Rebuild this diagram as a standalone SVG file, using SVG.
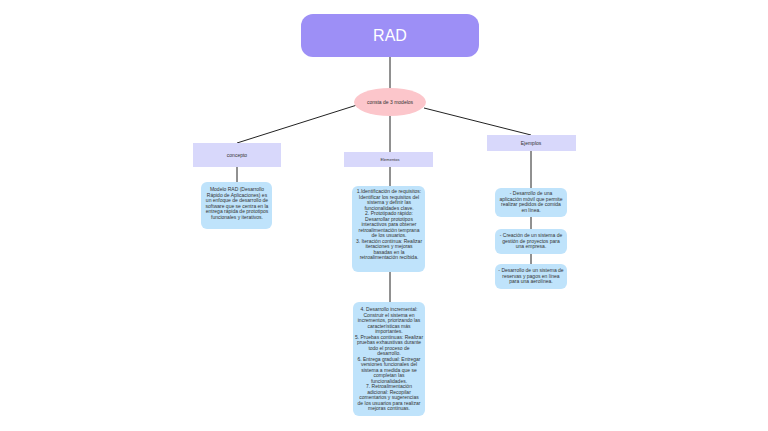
<svg xmlns="http://www.w3.org/2000/svg" width="768" height="431" viewBox="0 0 768 431">
<style>
text{font-family:"Liberation Sans",Arial,sans-serif;fill:#333;text-anchor:middle}
.t{font-size:5px}
.hd{fill:#d8d8fb}
.bl{fill:#bfe3fb}
.c line{stroke:#222;stroke-width:1}
</style>
<rect width="768" height="431" fill="#fff"/>
<g class="c">
<line x1="390" y1="57" x2="390" y2="88"/>
<line x1="357" y1="105" x2="237" y2="143"/>
<line x1="390" y1="116" x2="390" y2="152"/>
<line x1="424" y1="108" x2="531" y2="135"/>
<line x1="237" y1="167" x2="237" y2="182"/>
<line x1="390" y1="167" x2="390" y2="186"/>
<line x1="390" y1="272" x2="390" y2="302"/>
<line x1="531" y1="151" x2="531" y2="188"/>
<line x1="531" y1="217" x2="531" y2="229"/>
<line x1="531" y1="254" x2="531" y2="264"/>
</g>
<g id="rad"><rect x="301" y="14" width="178" height="43" rx="12" fill="#9d8ff6"/><text x="390" y="41" style="font-size:16px;fill:#fff">RAD</text></g>
<g id="consta"><ellipse cx="390" cy="102" rx="36" ry="14" fill="#fcc6cb"/><text class="t" x="390" y="104">consta de 3 modelos</text></g>
<g id="concepto"><rect class="hd" x="193" y="143" width="88" height="24"/><text class="t" x="237" y="157">concepto</text></g>
<g id="elementos"><rect class="hd" x="344" y="152" width="89" height="15"/><text x="390" y="161" style="font-size:4px">Elementos</text></g>
<g id="ejemplos"><rect class="hd" x="487" y="135" width="89" height="16"/><text class="t" x="531" y="145">Ejemplos</text></g>
<g id="def"><rect class="bl" x="201" y="182" width="71" height="47" rx="6"/>
<text class="t" x="237"><tspan x="237" y="191">Modelo RAD (Desarrollo</tspan><tspan x="237" y="196.5">Rápido de Aplicaciones) es</tspan><tspan x="237" y="202">un enfoque de desarrollo de</tspan><tspan x="237" y="207.5">software que se centra en la</tspan><tspan x="237" y="213">entrega rápida de prototipos</tspan><tspan x="237" y="218.5">funcionales y iterativos.</tspan></text></g>
<g id="el1"><rect class="bl" x="352" y="186" width="73" height="86" rx="6"/>
<text class="t"><tspan x="389" y="193">1.Identificación de requisitos:</tspan><tspan x="389" y="198.5">Identificar los requisitos del</tspan><tspan x="389" y="204">sistema y definir las</tspan><tspan x="389" y="209.5">funcionalidades clave.</tspan><tspan x="389" y="215">2. Prototipado rápido:</tspan><tspan x="389" y="220.5">Desarrollar prototipos</tspan><tspan x="389" y="226">interactivos para obtener</tspan><tspan x="389" y="231.5">retroalimentación temprana</tspan><tspan x="389" y="237">de los usuarios.</tspan><tspan x="389" y="242.5">3. Iteración continua: Realizar</tspan><tspan x="389" y="248">iteraciones y mejoras</tspan><tspan x="389" y="253.5">basadas en la</tspan><tspan x="389" y="259">retroalimentación recibida.</tspan></text></g>
<g id="el2"><rect class="bl" x="353" y="302" width="72" height="114" rx="6"/>
<text class="t"><tspan x="389" y="311">4. Desarrollo incremental:</tspan><tspan x="389" y="316.5">Construir el sistema en</tspan><tspan x="389" y="322">incrementos, priorizando las</tspan><tspan x="389" y="327.5">características más</tspan><tspan x="389" y="333">importantes.</tspan><tspan x="389" y="338.5">5. Pruebas continuas: Realizar</tspan><tspan x="389" y="344">pruebas exhaustivas durante</tspan><tspan x="389" y="349.5">todo el proceso de</tspan><tspan x="389" y="355">desarrollo.</tspan><tspan x="389" y="360.5">6. Entrega gradual: Entregar</tspan><tspan x="389" y="366">versiones funcionales del</tspan><tspan x="389" y="371.5">sistema a medida que se</tspan><tspan x="389" y="377">completan las</tspan><tspan x="389" y="382.5">funcionalidades.</tspan><tspan x="389" y="388">7. Retroalimentación</tspan><tspan x="389" y="393.5">adicional: Recopilar</tspan><tspan x="389" y="399">comentarios y sugerencias</tspan><tspan x="389" y="404.5">de los usuarios para realizar</tspan><tspan x="389" y="410">mejoras continuas.</tspan></text></g>
<g id="ej1"><rect class="bl" x="495" y="188" width="72" height="29" rx="6"/>
<text class="t"><tspan x="531" y="195">- Desarrollo de una</tspan><tspan x="531" y="200.5">aplicación móvil que permite</tspan><tspan x="531" y="206">realizar pedidos de comida</tspan><tspan x="531" y="211.5">en línea.</tspan></text></g>
<g id="ej2"><rect class="bl" x="495" y="229" width="72" height="25" rx="6"/>
<text class="t"><tspan x="531" y="237">- Creación de un sistema de</tspan><tspan x="531" y="242.5">gestión de proyectos para</tspan><tspan x="531" y="248">una empresa.</tspan></text></g>
<g id="ej3"><rect class="bl" x="495" y="264" width="72" height="25" rx="6"/>
<text class="t"><tspan x="531" y="272">- Desarrollo de un sistema de</tspan><tspan x="531" y="277.5">reservas y pagos en línea</tspan><tspan x="531" y="283">para una aerolínea.</tspan></text></g>
</svg>
